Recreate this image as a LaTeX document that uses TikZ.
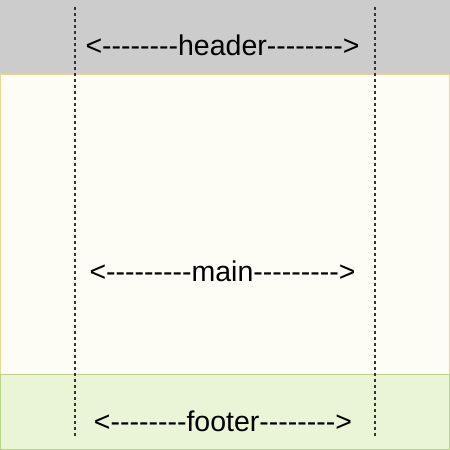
\documentclass[tikz,border=0pt]{standalone}
\usepackage{fontspec}
\setmainfont{Liberation Sans}[Ligatures=TeXOff]
\definecolor{hdrfill}{HTML}{CCCCCC}
\definecolor{mainfill}{HTML}{FDFDF5}
\definecolor{mainline}{HTML}{EBD58F}
\definecolor{footfill}{HTML}{EAF5D8}
\definecolor{footline}{HTML}{B9D48A}
\definecolor{guide}{HTML}{333333}
\tikzset{
  band/.style={rectangle, inner sep=0pt, outer sep=0pt, line width=1pt},
  lbl/.style={inner sep=0pt, anchor=base, font=\fontsize{28.5}{34}\selectfont, text=black},
  guideline/.style={draw=guide, line width=1.5pt, dash pattern=on 3pt off 3pt}
}
\begin{document}
\begin{tikzpicture}[x=1pt,y=1pt]
\useasboundingbox (0,0) rectangle (450,450);
\node[band, fill=hdrfill, minimum width=450pt, minimum height=75pt] (header) at (225,412.5) {};
\node[band, fill=mainfill, draw=mainline, minimum width=449pt, minimum height=300pt] (main) at (225,225) {};
\node[band, fill=footfill, draw=footline, minimum width=449pt, minimum height=74.5pt] (footer) at (225,37.75) {};
\node[lbl] (hl) at (222.5,394) {<--------header-------->};
\node[lbl] (ml) at (222.5,168.3) {<---------main--------->};
\node[lbl] (fl) at (223,18.5) {<--------footer-------->};
\coordinate (g1t) at (75,443);
\coordinate (g1b) at (75,12);
\coordinate (g2t) at (375,443);
\coordinate (g2b) at (375,12);
\draw[guideline] (g1t) -- (g1b);
\draw[guideline] (g2t) -- (g2b);
\end{tikzpicture}
\end{document}
